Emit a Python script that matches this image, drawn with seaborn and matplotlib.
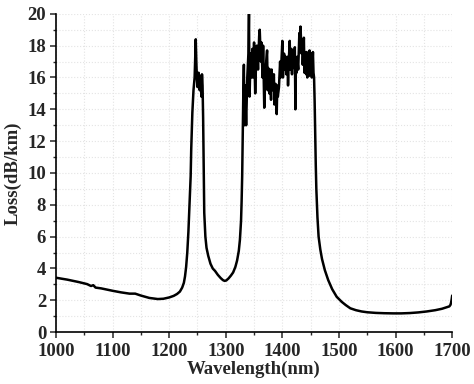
import matplotlib
matplotlib.use("Agg")
import matplotlib.pyplot as plt
from matplotlib.ticker import MultipleLocator
import seaborn as sns
import pandas as pd

wavelength = [1000, 1020, 1040, 1055, 1062, 1066, 1070, 1080, 1100, 1115, 1130, 1140, 1150, 1165, 1180,
              1190, 1200, 1208, 1214, 1219, 1223, 1226, 1228, 1230, 1232, 1234, 1236, 1238, 1239, 1241,
              1243, 1245, 1247, 1248,
              1249, 1250, 1252, 1254, 1255, 1257, 1258, 1259, 1260, 1261, 1262, 1264, 1266, 1269, 1273,
              1277, 1281, 1286, 1291, 1295, 1298, 1301, 1305, 1309, 1313, 1317, 1320, 1323, 1325, 1327,
              1328, 1329, 1330, 1331,
              1332, 1333, 1334, 1336, 1338, 1340, 1341, 1342, 1344, 1345, 1347, 1348, 1350, 1352,
              1354, 1355, 1357, 1359, 1360, 1362, 1363, 1365, 1366, 1368, 1369, 1371, 1373, 1374, 1375,
              1377, 1378, 1380, 1381, 1383, 1385, 1386, 1388, 1390, 1391, 1392, 1394, 1396, 1397, 1398,
              1400, 1401, 1403, 1405, 1406, 1407, 1409, 1410, 1411, 1413, 1414, 1416, 1417, 1418, 1420,
              1422, 1423, 1424, 1425, 1426, 1428, 1430, 1431, 1432, 1434, 1435, 1436, 1438, 1439, 1440,
              1442, 1443, 1444, 1446, 1447, 1448, 1450, 1451, 1452, 1454, 1455, 1456,
              1457, 1458, 1459, 1460, 1462, 1464, 1467, 1470, 1475, 1481, 1488, 1496, 1505, 1512, 1520,
              1530, 1540, 1550, 1565, 1580, 1596, 1610, 1625, 1640, 1655, 1670, 1682, 1691, 1695,
              1697, 1698, 1699, 1700]
loss = [3.42, 3.3, 3.15, 3.02, 2.9, 2.95, 2.8, 2.75, 2.6, 2.5, 2.42, 2.42, 2.3, 2.15, 2.08,
        2.1, 2.18, 2.28, 2.4, 2.55, 2.8, 3.1, 3.5, 4.1, 5.0, 6.3, 8.0, 9.8, 11.5, 13.8,
        15.2, 16.0, 18.4, 17.0,
        16.0, 15.4, 16.3, 15.2, 16.1, 14.8, 16.2, 15.5, 13.5, 10.5, 7.5, 6.0, 5.3, 4.8, 4.3,
        4.0, 3.85, 3.6, 3.4, 3.27, 3.22, 3.25, 3.38, 3.55, 3.75, 4.1, 4.5, 5.1, 5.8, 7.0,
        8.2, 9.8, 12.5, 15.0,
        16.8, 13.0, 15.5, 13.0, 16.0, 17.5, 20.0, 14.8, 17.5, 16.0, 17.8, 16.0, 18.2, 15.0,
        17.5, 18.0, 16.5, 18.6, 19.0, 17.0, 18.2, 16.0, 18.0, 14.1, 16.0, 16.8, 17.7, 15.2, 16.6,
        15.0, 16.5, 14.6, 16.5, 15.2, 16.2, 14.3, 15.6, 13.7, 15.5, 14.8, 15.4, 17.0, 16.0, 16.8,
        18.3, 16.0, 17.5, 16.5, 17.3, 16.2, 17.3, 15.5, 16.8, 18.3, 16.5, 17.8, 16.2, 17.7, 16.6,
        17.9, 14.0, 17.0, 16.3, 17.3, 16.5, 18.8, 17.8, 19.2, 17.5, 18.0, 16.8, 18.5, 16.3, 17.6,
        16.2, 17.6, 16.0, 17.5, 16.1, 17.7, 16.2, 17.5, 16.0, 17.6, 16.3, 16.0,
        14.5, 12.5, 10.5, 9.0, 7.2, 6.0, 5.2, 4.6, 3.9, 3.27, 2.7, 2.22, 1.9, 1.7, 1.5,
        1.38, 1.3, 1.25, 1.21, 1.19, 1.18, 1.18, 1.2, 1.24, 1.3, 1.38, 1.47, 1.57, 1.62,
        1.72, 1.85, 2.05, 2.3]

df = pd.DataFrame({"Wavelength": wavelength, "Loss": loss})

sns.set_style("ticks")
plt.rcParams["font.family"] = ["Liberation Serif", "DejaVu Serif"]
plt.rcParams["font.weight"] = "bold"

fig = plt.figure(figsize=(4.74, 3.84), dpi=100)
ax = fig.add_axes([0.118, 0.135, 0.836, 0.829])
sns.lineplot(data=df, x="Wavelength", y="Loss", ax=ax, color="black", linewidth=1.8,
             sort=False, estimator=None)

ax.set_xlim(1000, 1700)
ax.set_ylim(0, 20)
ax.xaxis.set_major_locator(MultipleLocator(100))
ax.xaxis.set_minor_locator(MultipleLocator(50))
ax.yaxis.set_major_locator(MultipleLocator(2))
ax.yaxis.set_minor_locator(MultipleLocator(1))
ax.grid(which="both", color="#e4e4e4", linestyle=":", linewidth=0.8)
ax.set_axisbelow(True)
for s in ["top", "right"]:
    ax.spines[s].set_visible(False)
for s in ["left", "bottom"]:
    ax.spines[s].set_linewidth(1.2)
    ax.spines[s].set_color("black")
ax.tick_params(which="major", direction="out", length=4, width=1.1, labelsize=13.5)
ax.tick_params(axis="x", which="major", pad=4)
ax.tick_params(axis="y", which="major", pad=3)
ax.tick_params(which="minor", direction="out", length=2.5, width=1.0)
for lab in ax.get_xticklabels() + ax.get_yticklabels():
    lab.set_fontweight("bold")
ax.set_xlabel("Wavelength(nm)", fontsize=13.5, fontweight="bold", labelpad=0)
ax.set_ylabel("Loss(dB/km)", fontsize=13.5, fontweight="bold", labelpad=4)

fig.savefig("out.png", dpi=100)
